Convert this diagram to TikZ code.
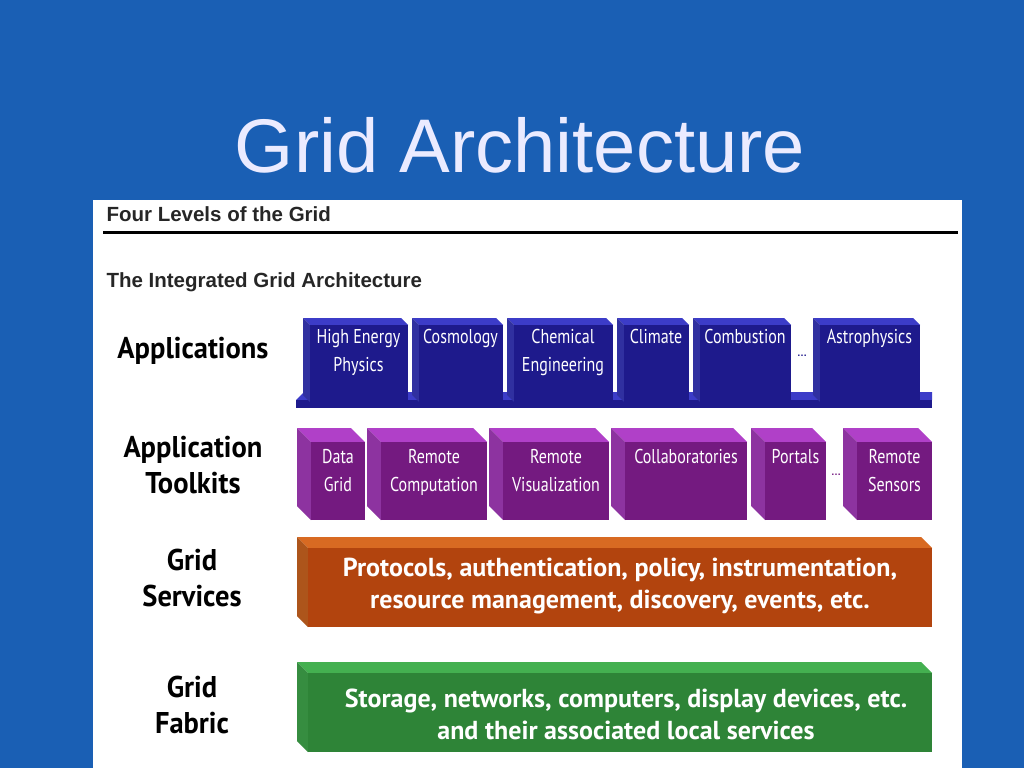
\documentclass[tikz,border=0pt]{standalone}
\usepackage{fontspec}
\setmainfont{Liberation Sans}
\newfontfamily\boxfont{PT Sans}
\usetikzlibrary{positioning}
\definecolor{slideblue}{HTML}{1A5FB4}
\definecolor{appfront}{HTML}{1E1A8C}
\definecolor{apptop}{HTML}{3C3CC8}
\definecolor{kitfront}{HTML}{741A80}
\definecolor{kittop}{HTML}{B040C8}
\definecolor{srvfront}{HTML}{B2440E}
\definecolor{srvtop}{HTML}{D86A22}
\definecolor{fabfront}{HTML}{2E8437}
\definecolor{fabtop}{HTML}{44B050}
% box with top and left face: x1,y1,x2,y2,depth,front,side
\newcommand\gbox[7]{%
  \fill[#7] (#1,#2) -- (#3-#5,#2) -- (#3,#2+#5) -- (#1+#5,#2+#5) -- cycle;
  \fill[#7!80!black] (#1,#2) -- (#1+#5,#2+#5) -- (#1+#5,#4) -- (#1,#4-#5) -- cycle;
  \fill[#6] (#1+#5,#2+#5) rectangle (#3,#4);}
\begin{document}
\begin{tikzpicture}[x=1pt,y=-1pt,
    level/.style={font=\fontsize{30}{36}\selectfont\bfseries\boxfont, align=center, xscale=0.95},
    boxtext/.style={font=\fontsize{20}{28}\selectfont\boxfont, text=white, align=center, xscale=0.8},
    bartext/.style={font=\fontsize{26}{32}\selectfont\bfseries\boxfont, text=white, align=center}]
    \fill[slideblue] (0,0) rectangle (1024,768);
    \useasboundingbox (0,0) rectangle (1024,768);
    \node[text=blue!8!white, font=\fontsize{76}{84}\selectfont] (title) at (520,145) {Grid Architecture};
    \fill[white] (93,200) rectangle (962,768);
    \node[anchor=west, font=\fontsize{20.5}{22}\selectfont\bfseries, text=black!85] (four) at (103,214) {Four Levels of the Grid};
    \draw[line width=3pt] (103,232) -- (958,232);
    \node[anchor=west, font=\fontsize{20.5}{22}\selectfont\bfseries, text=black!85] (integ) at (103,282) {The Integrated Grid Architecture};
    % level labels
    \node[level] (lapp) at (193,351) {Applications};
    \node[level] (lkit) at (193,465) {Application\\Toolkits};
    \node[level] (lsrv) at (192,578) {Grid\\Services};
    \node[level] (lfab) at (192,705) {Grid\\Fabric};
    % applications
    \fill[apptop] (304,392) -- (932,392) -- (932,400) -- (296,400) -- cycle;
    \fill[appfront] (296,400) rectangle (932,408);
    \foreach \xa/\xb/\name/\txt in {303/408/hep/{High Energy\\Physics}, 412/503/cos/Cosmology,
        507/613/chem/{Chemical\\Engineering}, 617/689/clim/Climate, 693/791/comb/Combustion,
        813/920/astro/Astrophysics} {
      \gbox{\xa}{318}{\xb}{402}{7}{appfront}{apptop}
      \node[boxtext, anchor=north] (\name) at ({(\xa+\xb)/2+3},326) {\txt};
    }
    \node[text=appfront, font=\bfseries] (appdots) at (802,356) {\dots};
    % toolkits
    \foreach \xa/\xb/\name/\txt in {297/365/data/{Data\\Grid}, 367/487/rcomp/{Remote\\Computation},
        489/609/rvis/{Remote\\Visualization}, 611/747/collab/Collaboratories, 751/826/port/Portals,
        843/932/rsens/{Remote\\Sensors}} {
      \gbox{\xa}{428}{\xb}{520}{14}{kitfront}{kittop}
      \node[boxtext, anchor=north] (\name) at ({(\xa+\xb)/2+7},446) {\txt};
    }
    \node[text=kitfront, font=\bfseries] (kitdots) at (836,475) {\dots};
    % services and fabric
    \gbox{297}{537}{932}{627}{11}{srvfront}{srvtop}
    \node[bartext] (srv) at (620,586) {Protocols, authentication, policy, instrumentation,\\resource management, discovery, events, etc.};
    \gbox{297}{662}{932}{752}{11}{fabfront}{fabtop}
    \node[bartext] (fab) at (626,714) {Storage, networks, computers, display devices, etc.\\and their associated local services};
\end{tikzpicture}
\end{document}
